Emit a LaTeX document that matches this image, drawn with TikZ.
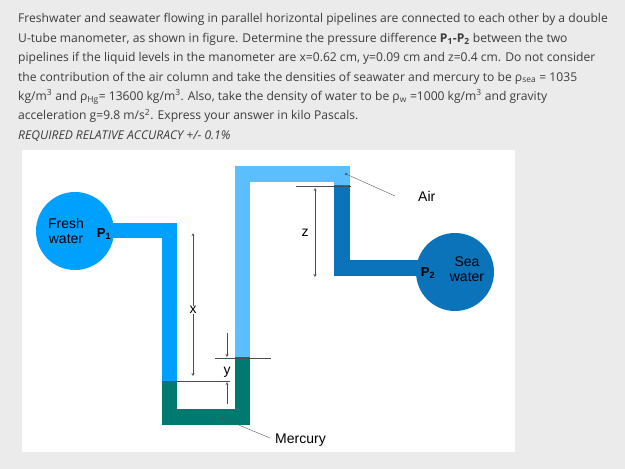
\documentclass[tikz,border=0pt]{standalone}
\usepackage{fontspec}
\setmainfont{Open Sans}
\newfontfamily\figfont{Liberation Sans}
\usetikzlibrary{positioning}
\definecolor{pagegray}{RGB}{235,235,235}
\definecolor{fresh}{RGB}{0,160,255}
\definecolor{airblue}{RGB}{91,190,255}
\definecolor{seablue}{RGB}{10,115,185}
\definecolor{hg}{RGB}{0,122,112}
\definecolor{txt}{RGB}{60,60,60}
\begin{document}
\begin{tikzpicture}[x=1pt,y=-1pt,>=stealth]
\tikzstyle{line}=[anchor=west,inner sep=0,font=\fontsize{12.1}{14}\selectfont,text=txt]
\tikzstyle{lbl}=[font=\figfont\fontsize{14}{15}\selectfont,align=center,inner sep=0]
\tikzstyle{dim}=[thin,gray!60!black]
\tikzstyle{lead}=[thin,gray!70!black]
\fill[pagegray] (0,0) rectangle (625,469);
\useasboundingbox (0,0) rectangle (625,469);
% problem text
\node[line]	(l1)	at (18,19)	{Freshwater and seawater flowing in parallel horizontal pipelines are connected to each other by a double};
\node[line]	(l2)	at (18,39)	{U-tube manometer, as shown in figure. Determine the pressure difference \textbf{P\textsubscript{1}-P\textsubscript{2}} between the two};
\node[line]	(l3)	at (18,58)	{pipelines if the liquid levels in the manometer are x=0.62 cm, y=0.09 cm and z=0.4 cm. Do not consider};
\node[line]	(l4)	at (18,78)	{the contribution of the air column and take the densities of seawater and mercury to be ρ\textsubscript{sea} = 1035};
\node[line]	(l5)	at (18,97)	{kg/m\textsuperscript{3} and ρ\textsubscript{Hg}= 13600 kg/m\textsuperscript{3}. Also, take the density of water to be ρ\textsubscript{w} =1000 kg/m\textsuperscript{3} and gravity};
\node[line]	(l6)	at (18,116)	{acceleration g=9.8 m/s\textsuperscript{2}. Express your answer in kilo Pascals.};
\node[line]	(l7)	at (18,136)	{\textit{REQUIRED RELATIVE ACCURACY +/- 0.1\%}};
% figure panel
\fill[white] (22,150) rectangle (515,452);
% pipes
\fill[fresh] (113,223) rectangle (177,238);
\fill[fresh] (162,223) rectangle (177,381);
\fill[hg] (162,381) rectangle (177,425);
\fill[hg] (162,409) rectangle (250,425);
\fill[hg] (235,357) rectangle (250,425);
\fill[airblue] (235,166) rectangle (250,357);
\fill[airblue] (235,166) rectangle (350,182);
\fill[airblue] (334,166) rectangle (350,185);
\fill[seablue] (334,185) rectangle (350,276);
\fill[seablue] (334,260) rectangle (420,276);
% tanks
\node[circle,fill=fresh,minimum size=78pt,inner sep=0]	(FW)	at (75,231)	{};
\node[circle,fill=seablue,minimum size=78pt,inner sep=0]	(SW)	at (455,272)	{};
\node[lbl]	(FWt)	at (66,231)	{Fresh\\water};
\node[lbl,font=\figfont\bfseries\fontsize{13}{14}\selectfont]	(P1)	at (104,234)	{P\textsubscript{1}};
\node[lbl]	(SWt)	at (467,269)	{Sea\\water};
\node[lbl,font=\figfont\bfseries\fontsize{13}{14}\selectfont]	(P2)	at (428,273)	{P\textsubscript{2}};
% reference levels
\coordinate	(xa)	at (175,381);	\coordinate	(xb)	at (230,381);
\coordinate	(ya)	at (215,358);	\coordinate	(yb)	at (271,358);
\coordinate	(za)	at (296,186);	\coordinate	(zb)	at (351,186);
\draw[dim] (xa) -- (xb) (ya) -- (yb) (za) -- (zb);
% dimensions
\node[lbl]	(X)	at (193,310)	{x};
\node[lbl]	(Y)	at (227,372)	{y};
\node[lbl]	(Z)	at (305,233)	{z};
\coordinate	(xt)	at (193,233);	\coordinate	(xbt)	at (193,376);
\coordinate	(yt)	at (227,333);	\coordinate	(yb2)	at (227,404);
\coordinate	(zt)	at (315,188);	\coordinate	(zbt)	at (315,277);
\draw[->,dim] (X) -- (xt);
\draw[->,dim] (X) -- (xbt);
\draw[->,dim] (yt) -- (227,357);
\draw[->,dim] (yb2) -- (227,382);
\draw[<->,dim] (zt) -- (zbt);
% leaders
\node[lbl,anchor=west]	(air)	at (418,196)	{Air};
\node[lbl,anchor=west]	(hgt)	at (275,440)	{Mercury};
\coordinate	(airp)	at (346,174);	\coordinate	(hgp)	at (222,418);
\draw[lead] (airp) circle (1) -- (395,196);
\draw[lead] (hgp) circle (1) -- (270,438);
\end{tikzpicture}
\end{document}
